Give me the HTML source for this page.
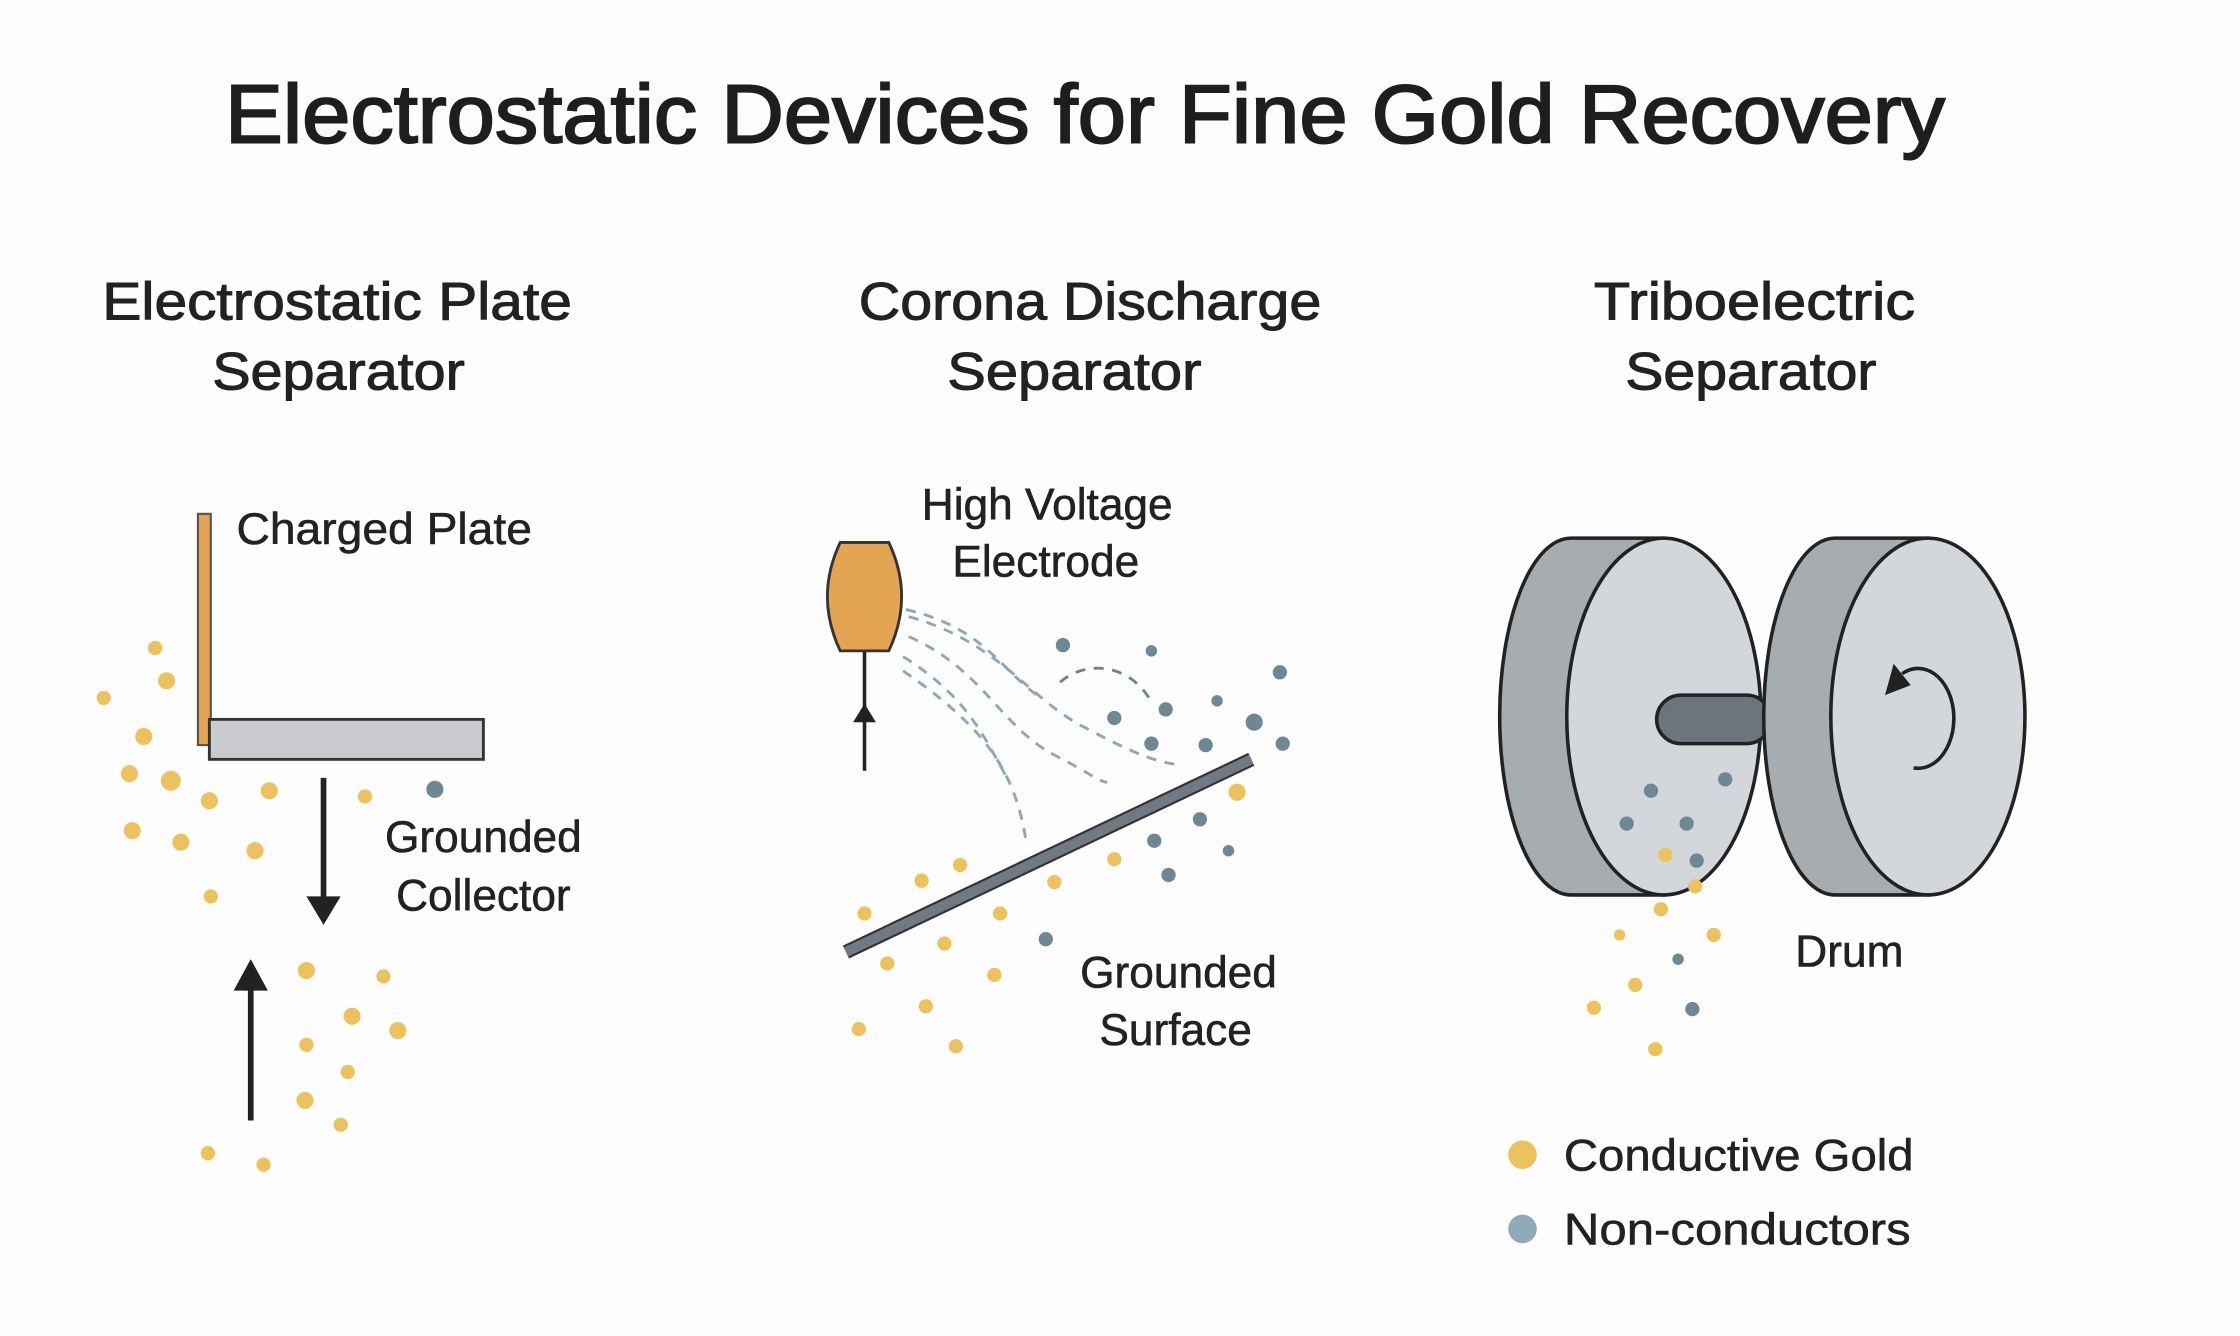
<!DOCTYPE html>
<html><head><meta charset="utf-8"><style>
html,body{margin:0;padding:0;background:#fdfdfd;}
svg{display:block;}
text{font-family:"Liberation Sans",sans-serif;fill:#222;}
</style></head><body>
<svg width="2240" height="1336" viewBox="0 0 1568 936" xmlns="http://www.w3.org/2000/svg">
<rect width="1568" height="936" fill="#fdfdfd"/>
<text x="157" y="100" font-size="58" textLength="1205" lengthAdjust="spacingAndGlyphs" style="fill:#1e1e1e;stroke:#1e1e1e;stroke-width:1.4">Electrostatic Devices for Fine Gold Recovery</text>

<g font-size="37" style="stroke:#222;stroke-width:0.7">
<text x="71" y="224" textLength="329" lengthAdjust="spacingAndGlyphs">Electrostatic Plate</text><text x="148" y="273" textLength="177" lengthAdjust="spacingAndGlyphs">Separator</text>
<text x="601" y="224" textLength="324" lengthAdjust="spacingAndGlyphs">Corona Discharge</text><text x="663" y="273" textLength="178" lengthAdjust="spacingAndGlyphs">Separator</text>
<text x="1116" y="224" textLength="225" lengthAdjust="spacingAndGlyphs">Triboelectric</text><text x="1138" y="273" textLength="176" lengthAdjust="spacingAndGlyphs">Separator</text>
</g>

<!-- Left panel -->
<rect x="138" y="360" width="9" height="162" fill="#e3a552" stroke="#555" stroke-width="1.5"/>
<rect x="146" y="504" width="192" height="28" fill="#c9cbce" stroke="#333" stroke-width="2"/>
<g style="stroke:#222;stroke-width:0.4">
<text x="165" y="381" font-size="31" textLength="207" lengthAdjust="spacingAndGlyphs">Charged Plate</text>
<text x="338" y="597" font-size="31" text-anchor="middle">Grounded</text>
<text x="338" y="638" font-size="31" text-anchor="middle">Collector</text>
</g>
<line x1="226" y1="545" x2="226" y2="634" stroke="#222" stroke-width="4"/>
<path d="M214,628 L226,648 L238,628 z" fill="#222"/>
<line x1="175" y1="785" x2="175" y2="690" stroke="#222" stroke-width="4"/>
<path d="M163,694 L175,672 L187,694 z" fill="#222"/>
<g fill="#ecc25e">
<circle cx="108" cy="454" r="5"/><circle cx="116" cy="477" r="6"/><circle cx="72" cy="489" r="5"/>
<circle cx="100" cy="516" r="6"/><circle cx="90" cy="542" r="6"/><circle cx="119" cy="547" r="7"/>
<circle cx="146" cy="561" r="6"/><circle cx="188" cy="554" r="6"/><circle cx="255" cy="558" r="5"/>
<circle cx="92" cy="582" r="6"/><circle cx="126" cy="590" r="6"/><circle cx="178" cy="596" r="6"/>
<circle cx="147" cy="628" r="5"/><circle cx="214" cy="680" r="6"/><circle cx="268" cy="684" r="5"/>
<circle cx="246" cy="712" r="6"/><circle cx="278" cy="722" r="6"/><circle cx="214" cy="732" r="5"/>
<circle cx="243" cy="751" r="5"/><circle cx="213" cy="771" r="6"/><circle cx="238" cy="788" r="5"/>
<circle cx="145" cy="808" r="5"/><circle cx="184" cy="816" r="5"/>
</g>
<circle cx="304" cy="553" r="6" fill="#6e8794"/>

<!-- Middle panel -->
<g style="stroke:#222;stroke-width:0.4">
<text x="733" y="364" font-size="31" text-anchor="middle">High Voltage</text>
<text x="732" y="404" font-size="31" text-anchor="middle">Electrode</text>
</g>
<line x1="605" y1="455" x2="605" y2="540" stroke="#222" stroke-width="2.5"/>
<path d="M597,506 L605,493 L613,506 z" fill="#222"/>
<path d="M588,380 L622,380 Q640,418 622,456 L588,456 Q570,418 588,380 z" fill="#e3a552" stroke="#333" stroke-width="2"/>
<g fill="none" stroke="#8ea6b6" stroke-width="2" stroke-dasharray="7,6">
<path d="M636,432 C700,450 720,490 760,510 C790,526 810,535 828,536"/>
<path d="M636,446 C690,470 700,510 740,530 C760,540 770,548 775,548"/>
<path d="M632,460 C680,490 690,520 705,545"/>
<path d="M632,470 C690,510 710,540 718,588"/>
<path d="M634,427 C690,440 700,470 730,490"/>
<path d="M742,478 C760,462 790,465 805,490" stroke="#6e8390"/>
</g>
<line x1="592" y1="667" x2="876" y2="532" stroke="#333" stroke-width="10"/>
<line x1="592" y1="667" x2="876" y2="532" stroke="#707a82" stroke-width="7"/>
<g fill="#6e8794">
<circle cx="744" cy="452" r="5"/><circle cx="806" cy="456" r="4"/><circle cx="896" cy="471" r="5"/>
<circle cx="780" cy="503" r="5"/><circle cx="816" cy="497" r="5"/><circle cx="852" cy="491" r="4"/>
<circle cx="806" cy="521" r="5"/><circle cx="844" cy="522" r="5"/><circle cx="878" cy="506" r="6"/>
<circle cx="898" cy="521" r="5"/><circle cx="840" cy="574" r="5"/><circle cx="808" cy="589" r="5"/>
<circle cx="860" cy="596" r="4"/><circle cx="818" cy="613" r="5"/><circle cx="732" cy="658" r="5"/>
</g>
<g fill="#ecc25e">
<circle cx="866" cy="555" r="6"/><circle cx="780" cy="602" r="5"/><circle cx="738" cy="618" r="5"/>
<circle cx="672" cy="606" r="5"/><circle cx="645" cy="617" r="5"/><circle cx="605" cy="640" r="5"/>
<circle cx="700" cy="640" r="5"/><circle cx="661" cy="661" r="5"/><circle cx="621" cy="675" r="5"/>
<circle cx="696" cy="683" r="5"/><circle cx="648" cy="705" r="5"/><circle cx="601" cy="721" r="5"/>
<circle cx="669" cy="733" r="5"/>
</g>
<g style="stroke:#222;stroke-width:0.4">
<text x="825" y="692" font-size="31" text-anchor="middle">Grounded</text>
<text x="823" y="732" font-size="31" text-anchor="middle">Surface</text>
</g>

<!-- Right panel drums -->
<g stroke="#222" stroke-width="2.5">
<path d="M1100,377 L1165,377 L1165,627 L1100,627 A50,125 0 0 1 1100,377 z" fill="#a7acb1"/>
<ellipse cx="1165" cy="502" rx="68" ry="125" fill="#d3d6da"/>
<rect x="1160" y="487" width="80" height="34" rx="17" fill="#6c757c"/>
<path d="M1285,377 L1350,377 L1350,627 L1285,627 A50,125 0 0 1 1285,377 z" fill="#a7acb1"/>
<ellipse cx="1350" cy="502" rx="68" ry="125" fill="#d3d6da"/>
</g>
<path d="M1332,472 A25,35 0 1 1 1340,538" fill="none" stroke="#222" stroke-width="2.5"/>
<path d="M1320,487 L1326,465 L1338,480 z" fill="#222"/>
<g fill="#6e8794">
<circle cx="1156" cy="554" r="5"/><circle cx="1208" cy="546" r="5"/><circle cx="1139" cy="577" r="5"/>
<circle cx="1181" cy="577" r="5"/><circle cx="1188" cy="603" r="5"/><circle cx="1175" cy="672" r="4"/>
<circle cx="1185" cy="707" r="5"/>
</g>
<g fill="#ecc25e">
<circle cx="1166" cy="599" r="5"/><circle cx="1187" cy="621" r="5"/><circle cx="1163" cy="637" r="5"/>
<circle cx="1134" cy="655" r="4"/><circle cx="1200" cy="655" r="5"/><circle cx="1145" cy="690" r="5"/>
<circle cx="1116" cy="706" r="5"/><circle cx="1159" cy="735" r="5"/>
</g>
<text x="1295" y="677" font-size="31" text-anchor="middle" style="stroke:#222;stroke-width:0.4">Drum</text>

<!-- Legend -->
<circle cx="1066" cy="809" r="10" fill="#ecc25e"/>
<text x="1095" y="820" font-size="31" textLength="245" lengthAdjust="spacingAndGlyphs" style="stroke:#222;stroke-width:0.4">Conductive Gold</text>
<circle cx="1066" cy="861" r="10" fill="#8fa9b8"/>
<text x="1095" y="872" font-size="31" textLength="243" lengthAdjust="spacingAndGlyphs" style="stroke:#222;stroke-width:0.4">Non-conductors</text>
</svg>
</body></html>
